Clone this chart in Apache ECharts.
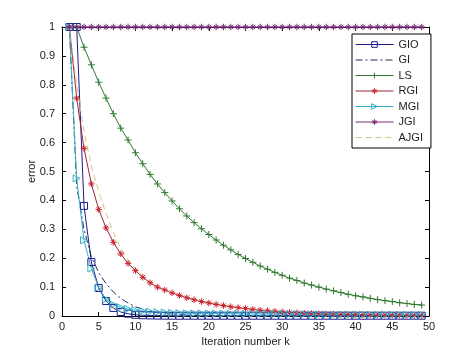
<!DOCTYPE html>
<html><head><meta charset="utf-8">
<script src="https://cdn.jsdelivr.net/npm/echarts@6/dist/echarts.min.js"></script>
<style>html,body{margin:0;padding:0;background:#fff}#c{width:474px;height:355px}</style>
</head><body><div id="c"></div>
<script>
const iterations = [1,2,3,4,5,6,7,8,9,10,11,12,13,14,15,16,17,18,19,20,21,22,23,24,25,26,27,28,29,30,31,32,33,34,35,36,37,38,39,40,41,42,43,44,45,46,47,48,49];

const GIO = [1,1,0.381,0.187,0.097,0.052,0.028,0.014,0.008,0.004,0.0025,0.002,0.0015,0.0012,0.001,0.001,0.001,0.001,0.001,0.001,0.001,0.001,0.001,0.001,0.001,0.001,0.001,0.001,0.001,0.001,0.001,0.001,0.001,0.001,0.001,0.001,0.001,0.001,0.001,0.001,0.001,0.001,0.001,0.001,0.001,0.001,0.001,0.001,0.001];
const GI = [1,0.45,0.3,0.205,0.15,0.112,0.083,0.061,0.045,0.032,0.023,0.017,0.012,0.009,0.0065,0.0048,0.0035,0.0026,0.0019,0.0014,0.001,0.0008,0.0007,0.0006,0.0005,0.0005,0.0004,0.0004,0.0003,0.0003,0.0003,0.0002,0.0002,0.0002,0.0002,0.0002,0.0001,0.0001,0.0001,0.0001,0.0001,0.0001,0.0001,0.0001,0.0001,0.0001,0.0001,0.0001,0.0001];
const LS = [1,1,0.93,0.869,0.809,0.754,0.7,0.65,0.609,0.565,0.527,0.49,0.457,0.427,0.398,0.371,0.346,0.323,0.302,0.282,0.263,0.245,0.229,0.213,0.199,0.186,0.173,0.162,0.151,0.141,0.131,0.123,0.114,0.107,0.1,0.093,0.087,0.081,0.075,0.07,0.066,0.061,0.057,0.053,0.05,0.046,0.043,0.04,0.038];
const RGI = [1,0.754,0.58,0.457,0.369,0.305,0.255,0.215,0.182,0.157,0.134,0.115,0.1,0.09,0.08,0.071,0.063,0.056,0.05,0.045,0.04,0.036,0.032,0.029,0.026,0.023,0.02,0.018,0.016,0.014,0.012,0.011,0.01,0.009,0.008,0.007,0.0065,0.006,0.0055,0.005,0.0045,0.004,0.0037,0.0034,0.003,0.0028,0.0025,0.0023,0.002];
const MGI = [1,0.476,0.262,0.164,0.098,0.058,0.04,0.03,0.024,0.02,0.017,0.015,0.013,0.012,0.011,0.01,0.0095,0.009,0.0088,0.0086,0.0084,0.0082,0.008,0.0078,0.0076,0.0074,0.0072,0.007,0.0068,0.0066,0.0064,0.0062,0.006,0.0058,0.0056,0.0055,0.0054,0.0053,0.0052,0.0051,0.005,0.0049,0.0048,0.0047,0.0046,0.0045,0.0044,0.0043,0.0042];
const JGI = [1,1,1,1,1,1,1,1,1,1,1,1,1,1,1,1,1,1,1,1,1,1,1,1,1,1,1,1,1,1,1,1,1,1,1,1,1,1,1,1,1,1,1,1,1,1,1,1,1];
const AJGI = [1,0.8,0.64,0.52,0.43,0.355,0.29,0.235,0.195,0.163,0.138,0.118,0.103,0.092,0.082,0.073,0.065,0.058,0.052,0.047,0.042,0.038,0.034,0.031,0.028,0.025,0.022,0.02,0.018,0.016,0.014,0.013,0.012,0.011,0.01,0.009,0.008,0.0075,0.007,0.0065,0.006,0.0055,0.005,0.0045,0.004,0.0037,0.0034,0.0031,0.003];

const xTicks = {min: 0, max: 50, interval: 5};
const yTicks = {min: 0, max: 1, interval: 0.1};

const pair = vals => iterations.map((k, i) => [k, vals[i]]);

const PLUS = 'path://M5,0L5,10M0,5L10,5';
const STAR = 'path://M5,0L5,10M0,5L10,5M1.6,1.6L8.4,8.4M1.6,8.4L8.4,1.6';
const TRI_R = 'path://M0,0L10,5L0,10Z';

const C = {GIO: '#1c1c8a', GI: '#2a2a55', LS: '#2f7a2f', RGI: '#a02535', RGIm: '#cc2230', MGI: '#35b0c8', JGI: '#7a2a7a', AJGI: '#d2c58a'};

function mk(name, vals, color, opts) {
  return Object.assign({
    name: name, type: 'line', data: pair(vals), clip: false,
    animation: false, showSymbol: true,
    lineStyle: {color: color, width: 1},
    symbol: 'none', symbolSize: 7,
    itemStyle: {color: color, borderColor: color, borderWidth: 1},
    emphasis: {disabled: true}
  }, opts || {});
}
const hollow = c => ({color: 'none', borderColor: c, borderWidth: 1});

const series = [
  mk('GIO', GIO, C.GIO, {symbol: 'rect', symbolSize: 7, itemStyle: hollow(C.GIO)}),
  mk('GI', GI, C.GI, {lineStyle: {color: C.GI, width: 1, type: [7, 3, 2, 3]}}),
  mk('LS', LS, C.LS, {symbol: PLUS, symbolSize: 7, itemStyle: hollow(C.LS)}),
  mk('RGI', RGI, C.RGI, {symbol: STAR, symbolSize: 6.5, itemStyle: hollow(C.RGIm)}),
  mk('MGI', MGI, C.MGI, {symbol: TRI_R, symbolSize: 7, itemStyle: hollow(C.MGI)}),
  mk('JGI', JGI, C.JGI, {symbol: STAR, symbolSize: 6.5, itemStyle: hollow(C.JGI)}),
  mk('AJGI', AJGI, C.AJGI, {lineStyle: {color: C.AJGI, width: 1, type: [6, 4]}})
];

const axisCommon = {
  type: 'value',
  axisLine: {show: true, onZero: false, lineStyle: {color: '#000', width: 1}},
  axisTick: {show: true, inside: true, length: 4, lineStyle: {color: '#000'}},
  splitLine: {show: false},
  axisLabel: {color: '#222', fontSize: 11, fontFamily: 'Liberation Sans'}
};

const chart = echarts.init(document.getElementById('c'), null, {renderer: 'canvas'});
chart.setOption({
  backgroundColor: '#fff',
  animation: false,
  grid: {left: 62, right: 45, top: 27, bottom: 39, containLabel: false},
  xAxis: [
    Object.assign({}, axisCommon, xTicks, {position: 'bottom',
      name: 'Iteration number k', nameLocation: 'middle', nameGap: 19,
      nameTextStyle: {color: '#222', fontSize: 11, fontFamily: 'Liberation Sans'},
      axisLabel: Object.assign({}, axisCommon.axisLabel, {margin: 5})}),
    Object.assign({}, axisCommon, xTicks, {position: 'top', axisLabel: {show: false}})
  ],
  yAxis: [
    Object.assign({}, axisCommon, yTicks, {position: 'left',
      name: 'error', nameLocation: 'middle', nameGap: 25, nameMoveOverlap: false,
      nameTextStyle: {color: '#222', fontSize: 11, fontFamily: 'Liberation Sans'},
      axisLabel: Object.assign({}, axisCommon.axisLabel, {margin: 7})}),
    Object.assign({}, axisCommon, yTicks, {position: 'right', axisLabel: {show: false}})
  ],
  legend: {
    orient: 'vertical', left: 352, top: 34,
    padding: [3, 8, 3, 3], itemGap: 0.5, itemWidth: 38, itemHeight: 7,
    borderColor: '#000', borderWidth: 1, backgroundColor: '#fff',
    lineStyle: {width: 1},
    textStyle: {color: '#222', fontSize: 11, lineHeight: 15, fontFamily: 'Liberation Sans'},
    data: [
      {name: 'GIO', itemStyle: hollow(C.GIO)},
      {name: 'GI', itemStyle: {opacity: 0}},
      {name: 'LS', itemStyle: hollow(C.LS)},
      {name: 'RGI', itemStyle: hollow(C.RGIm)},
      {name: 'MGI', itemStyle: hollow(C.MGI)},
      {name: 'JGI', itemStyle: hollow(C.JGI)},
      {name: 'AJGI', itemStyle: {opacity: 0}}
    ]
  },
  series: series
});
</script>
</body></html>
